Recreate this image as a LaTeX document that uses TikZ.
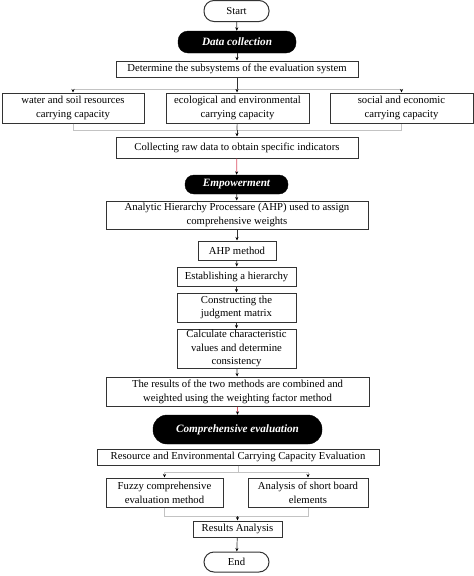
\documentclass[tikz,border=0pt]{standalone}
\usepackage{fontspec}
\setmainfont{Liberation Serif}
\usetikzlibrary{arrows.meta}
\definecolor{lgray}{RGB}{195,195,195}
\definecolor{redl}{RGB}{220,80,100}
\tikzset{
  box/.style={draw=black!80, line width=1pt, fill=white, align=center, inner sep=0pt, font=\fontsize{10.7}{13.8}\selectfont},
  term/.style={box, rounded corners=10pt},
  phase/.style={fill=black, draw=black, rounded corners=10pt, text=white, align=center, inner sep=0pt, font=\fontsize{11.2}{13}\selectfont\bfseries\itshape},
  tip/.style={-{Stealth[length=3.5pt,width=3pt,color=black]}},
  arr/.style={tip, draw=black!80, line width=0.7pt},
  larr/.style={tip, draw=lgray, line width=0.7pt},
  lline/.style={draw=lgray, line width=0.7pt},
  dline/.style={draw=black!80, line width=0.7pt},
  rarr/.style={tip, draw=redl, line width=0.7pt},
}
\begin{document}
\begin{tikzpicture}[x=1pt,y=-1pt]
\useasboundingbox (0,0) rectangle (474,576);
\node[term, minimum width=65pt, minimum height=21pt] (start) at (236.5,11) {Start};
\node[phase, minimum width=118pt, minimum height=22pt] (dc) at (237,42) {Data collection};
\node[box, minimum width=242pt, minimum height=16pt] (det) at (237,69) {Determine the subsystems of the evaluation system};
\node[box, minimum width=142pt, minimum height=30pt] (w1) at (73,108) {water and soil resources\\carrying capacity};
\node[box, minimum width=143pt, minimum height=30pt] (w2) at (237.5,108) {ecological and environmental\\carrying capacity};
\node[box, minimum width=143pt, minimum height=30pt] (w3) at (401.5,108) {social and economic\\carrying capacity};
\node[box, minimum width=242pt, minimum height=21pt] (col) at (237,147.5) {Collecting raw data to obtain specific indicators};
\node[phase, minimum width=103pt, minimum height=19pt, rounded corners=9pt] (emp) at (236.5,184.5) {Empowerment};
\node[box, minimum width=262pt, minimum height=28pt] (ahp) at (237,215) {Analytic Hierarchy Processare (AHP) used to assign\\comprehensive weights};
\node[box, minimum width=78pt, minimum height=19pt] (ahpm) at (237,250.5) {AHP method};
\node[box, minimum width=119pt, minimum height=19pt] (est) at (236.5,276.5) {Establishing a hierarchy};
\node[box, minimum width=119pt, minimum height=29pt] (con) at (236.5,307.5) {Constructing the\\judgment matrix};
\node[box, minimum width=119pt, minimum height=39pt] (calc) at (236.5,348.5) {Calculate characteristic\\values and determine\\consistency};
\node[box, minimum width=263pt, minimum height=29pt] (res) at (237.5,391.5) {The results of the two methods are combined and\\weighted using the weighting factor method};
\node[phase, minimum width=169pt, minimum height=29pt, rounded corners=14pt] (ce) at (237.5,429.5) {Comprehensive evaluation};
\node[box, minimum width=282pt, minimum height=16pt] (rec) at (238,457) {Resource and Environmental Carrying Capacity Evaluation};
\node[box, minimum width=117pt, minimum height=29pt] (fz) at (164.5,492.5) {Fuzzy comprehensive\\evaluation method};
\node[box, minimum width=120pt, minimum height=29pt] (an) at (308,492.5) {Analysis of short board\\elements};
\node[box, minimum width=89pt, minimum height=16pt] (ra) at (237.5,529) {Results Analysis};
\node[term, minimum width=65pt, minimum height=20pt] (end) at (236.5,562) {End};
% coordinates
\coordinate (s1) at (237,89);
\coordinate (sl) at (73,89);
\coordinate (sr) at (401.5,89);
\coordinate (m1) at (237,130);
\coordinate (ml) at (73,130);
\coordinate (mr) at (401.5,130);
\coordinate (t1) at (238,472);
\coordinate (tl) at (164.5,472);
\coordinate (tr) at (308,472);
\coordinate (b1) at (237.5,516);
\coordinate (bl) at (164.5,516);
\coordinate (br) at (308,516);
% connectors
\draw[arr] (start) -- (dc);
\draw[arr] (dc) -- (det);
\draw[dline] (det) -- (s1);
\draw[lline] (sl) -- (sr);
\draw[larr] (sl) -- (w1);
\draw[arr] (s1) -- (w2);
\draw[larr] (sr) -- (w3);
\draw[lline] (w1) -- (ml) -- (mr) -- (w3);
\draw[dline] (w2) -- (m1);
\draw[arr] (m1) -- (col);
\draw[rarr] (col) -- (emp);
\draw[arr] (emp) -- (ahp);
\draw[arr] (ahp) -- (ahpm);
\draw[arr] (ahpm) -- (est);
\draw[arr] (est) -- (con);
\draw[arr] (con) -- (calc);
\draw[arr] (calc) -- (res);
\draw[rarr] (res) -- (ce);
\draw[lline] (rec) -- (t1);
\draw[lline] (tl) -- (tr);
\draw[larr] (tl) -- (fz);
\draw[larr] (tr) -- (an);
\draw[lline] (fz) -- (bl) -- (br) -- (an);
\draw[arr] (b1) -- (ra);
\draw[arr] (ra) -- (end);
\end{tikzpicture}
\end{document}
